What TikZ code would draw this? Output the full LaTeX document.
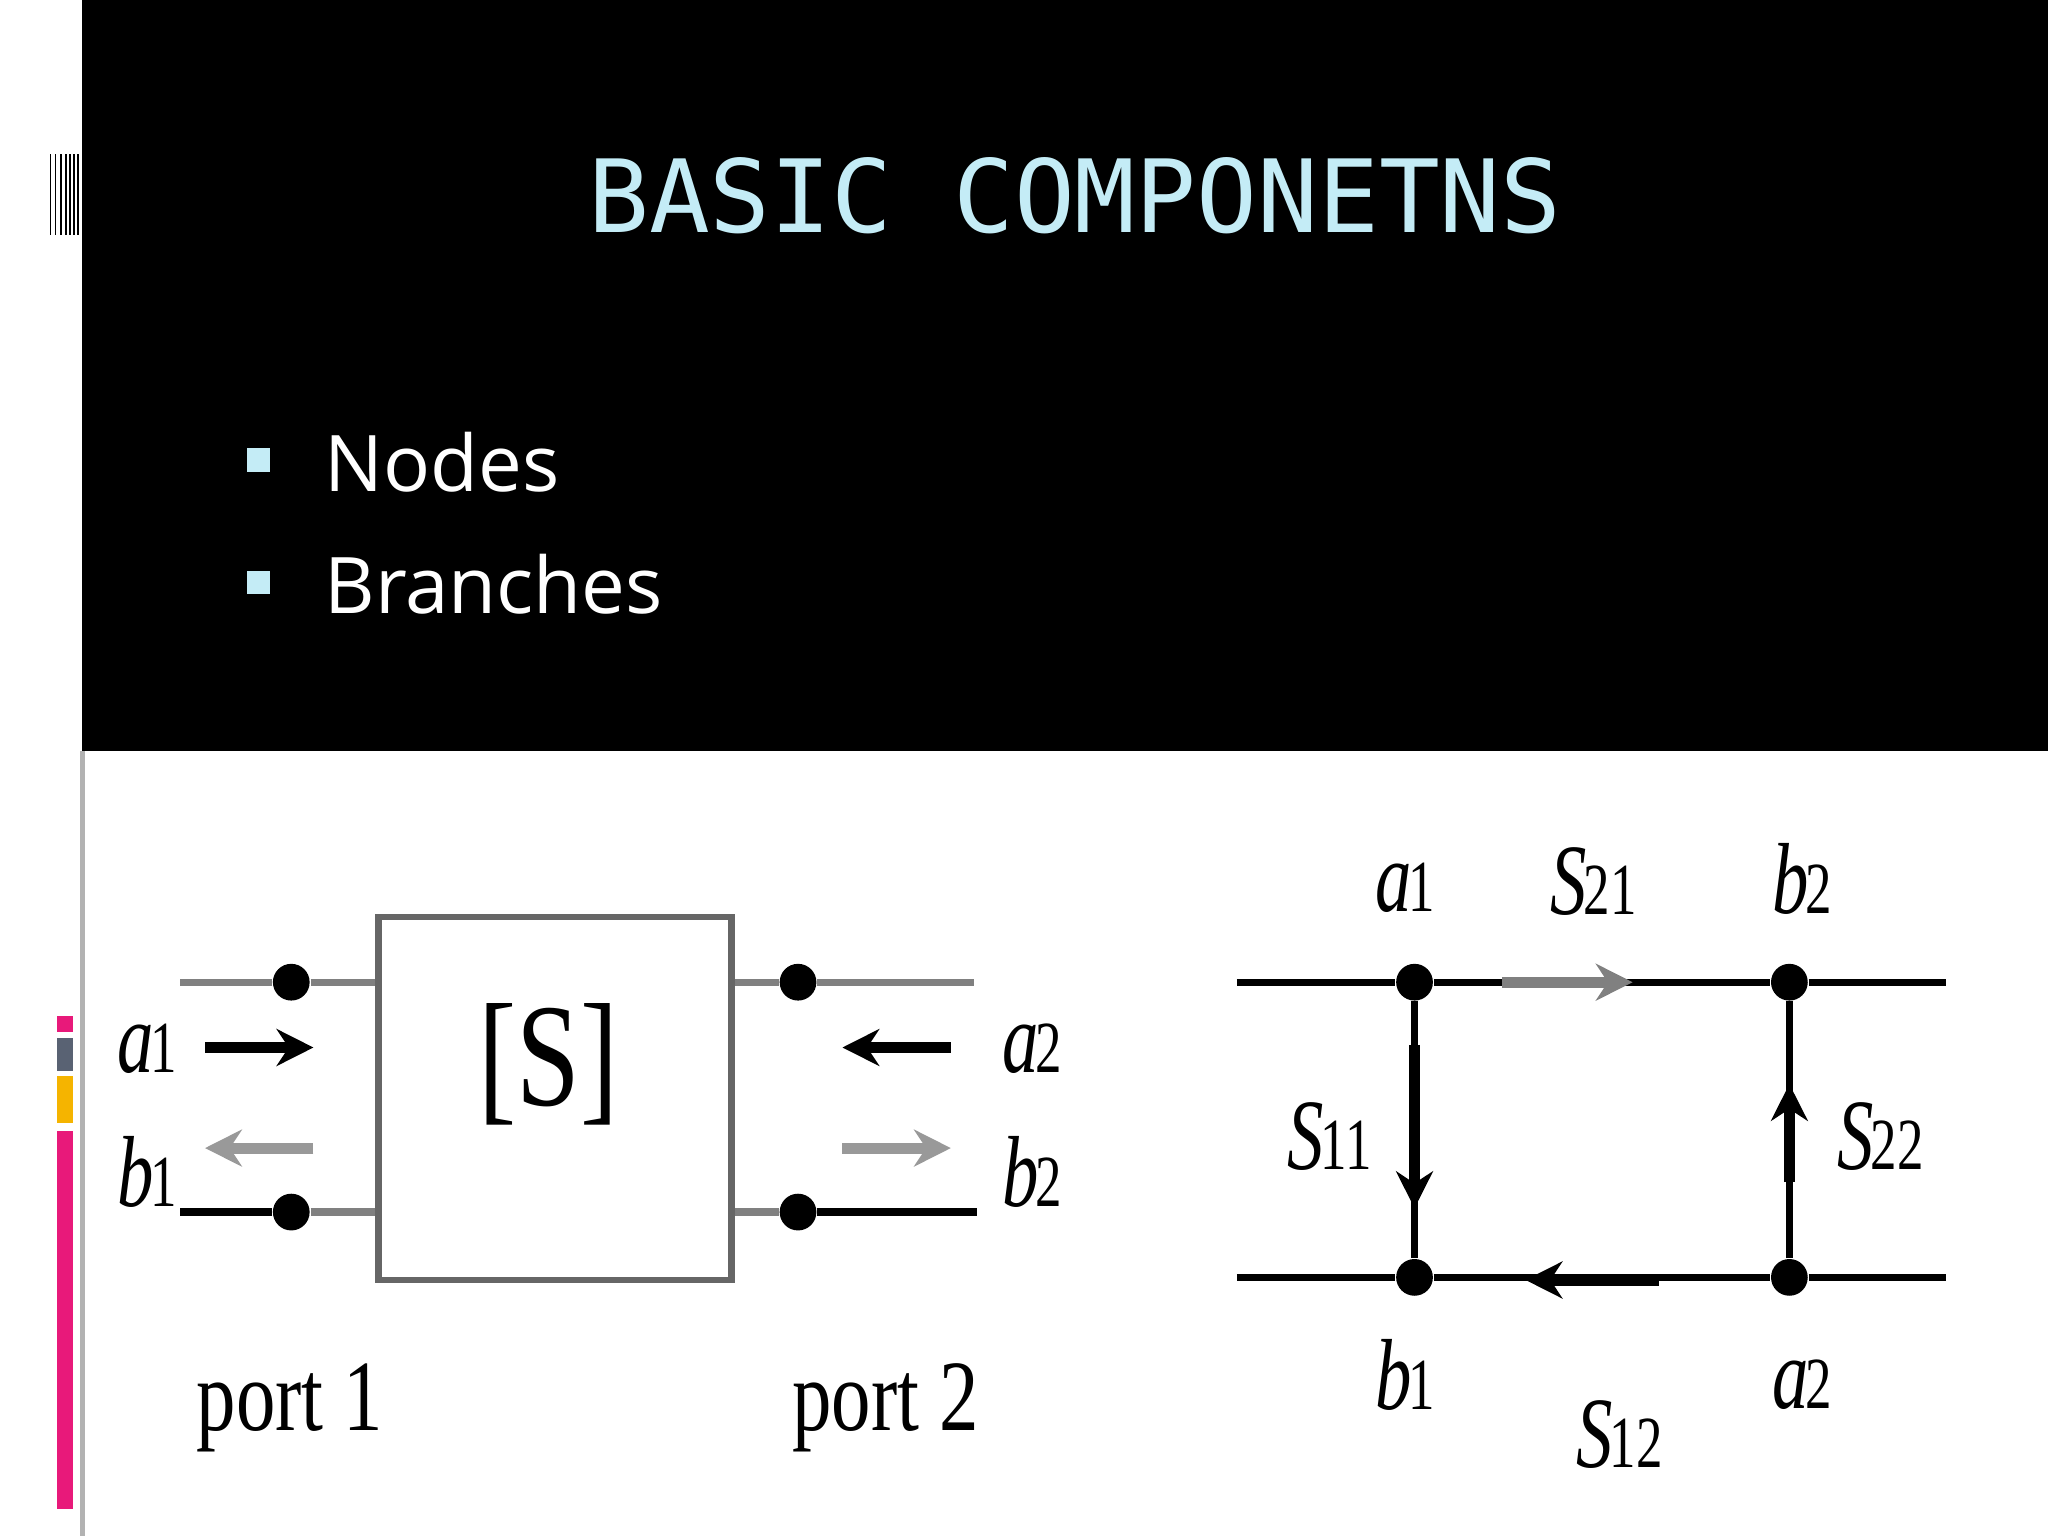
\documentclass[tikz,border=0pt]{standalone}
\usepackage{fontspec}
\usepackage{graphicx}
\setmainfont{Liberation Serif}
\newfontfamily\titlefont{DejaVu Sans Mono}
\newfontfamily\bulletfont{Open Sans}
\usetikzlibrary{arrows.meta,positioning}
\definecolor{titlecyan}{HTML}{C4ECF6}
\definecolor{barpink}{HTML}{E8197A}
\definecolor{bargray}{HTML}{596273}
\definecolor{barorange}{HTML}{F5B400}
\tikzset{
    dot/.style = {circle, fill=black, inner sep=0pt, minimum size=8pt},
    wire/.style = {line width=1.6pt},
    sig/.style = {line width=2.4pt, -{Stealth[length=8pt,width=8pt]}},
    grey sig/.style = {sig, draw=gray!80},
    lbl/.style = {font=\fontsize{22}{24}\selectfont, inner sep=0pt},
    bul/.style = {font=\bulletfont\fontsize{17}{19}\selectfont, text=white, anchor=west}
}
\newcommand{\sv}[2]{\scalebox{0.72}[1]{$\mathit{#1}$\kern-1pt{\fontsize{16}{18}\selectfont #2}}}
\newcommand{\nar}[1]{\scalebox{0.78}[1]{#1}}

\begin{document}
\begin{tikzpicture}[x=0.01cm, y=-0.01cm]
    \useasboundingbox (0,0) rectangle (1568,1176);
    % background
    \fill[white] (0,0) rectangle (1568,1176);
    \fill[black] (63,0) rectangle (1568,575);
    \draw[gray!60, line width=1pt] (63,575) -- (63,1176);
    % side marks
    \foreach \x in {38,42,46,50,53,56,59}
        \fill[black] (\x,118) rectangle ++(1.2,62);
    \fill[barpink] (44,778) rectangle (56,790);
    \fill[bargray] (44,795) rectangle (56,820);
    \fill[barorange] (44,824) rectangle (56,860);
    \fill[barpink] (44,866) rectangle (56,1155);
    % title and bullets
    \node[text=titlecyan, font=\titlefont\fontsize{22}{24}\selectfont] (title) at (823,150) {BASIC COMPONETNS};
    \fill[titlecyan] (189,343) rectangle ++(18,18);
    \fill[titlecyan] (189,437) rectangle ++(18,18);
    \node[bul] (nodes) at (236,354) {Nodes};
    \node[bul] (branches) at (236,447) {Branches};

    % two-port block
    \node[draw=gray!80!black, line width=1.4pt, minimum width=2.7cm, minimum height=2.78cm] (S) at (425,841) {};
    \node[font=\fontsize{32}{34}\selectfont] (slbl) at (420,815) {\nar{[S]}};
    \node[dot] (p1t) at (223,752) {};
    \node[dot] (p1b) at (223,928) {};
    \node[dot] (p2t) at (611,752) {};
    \node[dot] (p2b) at (611,928) {};
    \coordinate (l1t) at (138,752);
    \coordinate (l1b) at (138,928);
    \coordinate (r2t) at (746,752);
    \coordinate (r2b) at (748,928);
    \draw[wire, gray] (l1t) -- (p1t) -- (S.west |- p1t);
    \draw[wire] (l1b) -- (p1b);
    \draw[wire, gray] (p1b) -- (S.west |- p1b);
    \draw[wire, gray] (S.east |- p2t) -- (p2t) -- (r2t);
    \draw[wire, gray] (S.east |- p2b) -- (p2b);
    \draw[wire] (p2b) -- (r2b);
    \coordinate (a1s) at (157,802); \coordinate (a1e) at (240,802);
    \coordinate (b1s) at (240,879); \coordinate (b1e) at (157,879);
    \coordinate (a2s) at (728,802); \coordinate (a2e) at (645,802);
    \coordinate (b2s) at (645,879); \coordinate (b2e) at (728,879);
    \draw[sig] (a1s) -- (a1e);
    \draw[grey sig] (b1s) -- (b1e);
    \draw[sig] (a2s) -- (a2e);
    \draw[grey sig] (b2s) -- (b2e);
    \node[lbl] (la1) at (113,803) {\sv{a}{1}};
    \node[lbl] (lb1) at (113,897) {\sv{b}{1}};
    \node[lbl] (la2) at (790,803) {\sv{a}{2}};
    \node[lbl] (lb2) at (790,897) {\sv{b}{2}};
    \node[lbl] (port1) at (222,1078) {\nar{port 1}};
    \node[lbl] (port2) at (678,1078) {\nar{port 2}};

    % signal flow graph
    \node[dot] (na1) at (1083,752) {};
    \node[dot] (nb2) at (1370,752) {};
    \node[dot] (nb1) at (1083,978) {};
    \node[dot] (na2) at (1370,978) {};
    \coordinate (tl) at (947,752); \coordinate (tr) at (1490,752);
    \coordinate (bl) at (947,978); \coordinate (br) at (1490,978);
    \draw[wire] (tl) -- (na1) -- (nb2) -- (tr);
    \draw[wire] (bl) -- (nb1) -- (na2) -- (br);
    \draw[wire] (na1) -- (nb1);
    \draw[wire] (na2) -- (nb2);
    \draw[sig, gray] (1150,752) -- (1250,752);
    \draw[sig] (1083,800) -- (1083,925);
    \draw[sig] (1370,905) -- (1370,830);
    \draw[sig] (1270,980) -- (1168,980);
    \node[lbl] (ga1) at (1076,680) {\sv{a}{1}};
    \node[lbl] (gs21) at (1220,675) {\sv{S}{21}};
    \node[lbl] (gb2) at (1380,673) {\sv{b}{2}};
    \node[lbl] (gs11) at (1018,870) {\sv{S}{11}};
    \node[lbl] (gs22) at (1440,870) {\sv{S}{22}};
    \node[lbl] (gb1) at (1076,1053) {\sv{b}{1}};
    \node[lbl] (ga2) at (1380,1060) {\sv{a}{2}};
    \node[lbl] (gs12) at (1240,1098) {\sv{S}{12}};
\end{tikzpicture}
\end{document}
